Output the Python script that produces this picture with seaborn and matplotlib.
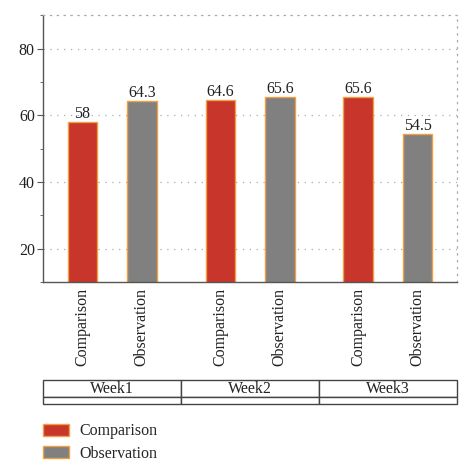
import pandas as pd
import matplotlib
matplotlib.use("Agg")
import matplotlib.pyplot as plt
import seaborn as sns
from matplotlib.ticker import MultipleLocator

weeks = ["Week1", "Week2", "Week3"]
groups = ["Comparison", "Observation"]
comparison = [58, 64.6, 65.6]
observation = [64.3, 65.6, 54.5]
value_labels = {"Comparison": ["58", "64.6", "65.6"], "Observation": ["64.3", "65.6", "54.5"]}

df = pd.DataFrame({
    "week": weeks * 2,
    "group": ["Comparison"] * 3 + ["Observation"] * 3,
    "value": comparison + observation,
})

sns.set_style("white")
plt.rcParams["font.family"] = ["Liberation Serif", "DejaVu Serif"]
plt.rcParams["font.size"] = 11.5

fig = plt.figure(figsize=(4.74, 4.74), dpi=100)
ax = fig.add_axes([0.091, 0.405, 0.873, 0.563])

pal = {"Comparison": "#c8352b", "Observation": "#808080"}
sns.barplot(data=df, x="week", y="value", hue="group", hue_order=groups, order=weeks,
            palette=pal, width=0.86, gap=0.5, edgecolor="#f0a040", linewidth=1,
            saturation=1, ax=ax)

ax.set_ylim(10, 90)
ax.yaxis.set_major_locator(MultipleLocator(20))
ax.yaxis.set_minor_locator(MultipleLocator(10))
ax.tick_params(axis="y", which="major", direction="out", length=4, color="#555555",
               labelsize=11.5, labelcolor="#222222", left=True, pad=2)
ax.tick_params(axis="y", which="minor", direction="out", length=2, color="#555555", left=True)
ax.grid(axis="y", which="major", color="#aaaaaa", linestyle=(0, (1, 4.5)), linewidth=0.9)
ax.set_axisbelow(True)

for s in ["left", "bottom"]:
    ax.spines[s].set_color("#555555")
    ax.spines[s].set_linewidth(1)
for s in ["top", "right"]:
    ax.spines[s].set_color("#aaaaaa")
    ax.spines[s].set_linestyle((0, (1, 4.5)))
    ax.spines[s].set_linewidth(0.9)

# value labels
for cont, g in zip(ax.containers, groups):
    ax.bar_label(cont, labels=value_labels[g], padding=0, fontsize=11.5, color="#222222")

# category labels under each bar
centers, labels = [], []
for cont, g in zip(ax.containers, groups):
    for p in cont.patches:
        centers.append(p.get_x() + p.get_width() / 2)
        labels.append(g)
ax.set_xticks(centers)
ax.set_xticklabels(labels, rotation=90, fontsize=11.5, color="#222222")
ax.tick_params(axis="x", length=0, pad=4)
ax.set_xlabel("")
ax.set_ylabel("")

# week table
tab = ax.table(cellText=[weeks, ["", "", ""]], cellLoc="center",
               bbox=[0, -0.457, 1, 0.09])
tab.auto_set_font_size(False)
for (r, c), cell in tab.get_celld().items():
    cell.set_edgecolor("#444444")
    cell.set_linewidth(1)
    cell.set_height(0.065 if r == 0 else 0.025)
    cell.get_text().set_fontsize(11.5)
    cell.get_text().set_color("#222222")

handles, _ = ax.get_legend_handles_labels()
ax.legend(handles, groups, loc="upper left", bbox_to_anchor=(0, -0.53), frameon=False,
          borderpad=0, borderaxespad=0, handlelength=1.6, handleheight=0.75,
          handletextpad=0.65, labelspacing=0.4, fontsize=11.5)

fig.savefig("out.png", dpi=100)
